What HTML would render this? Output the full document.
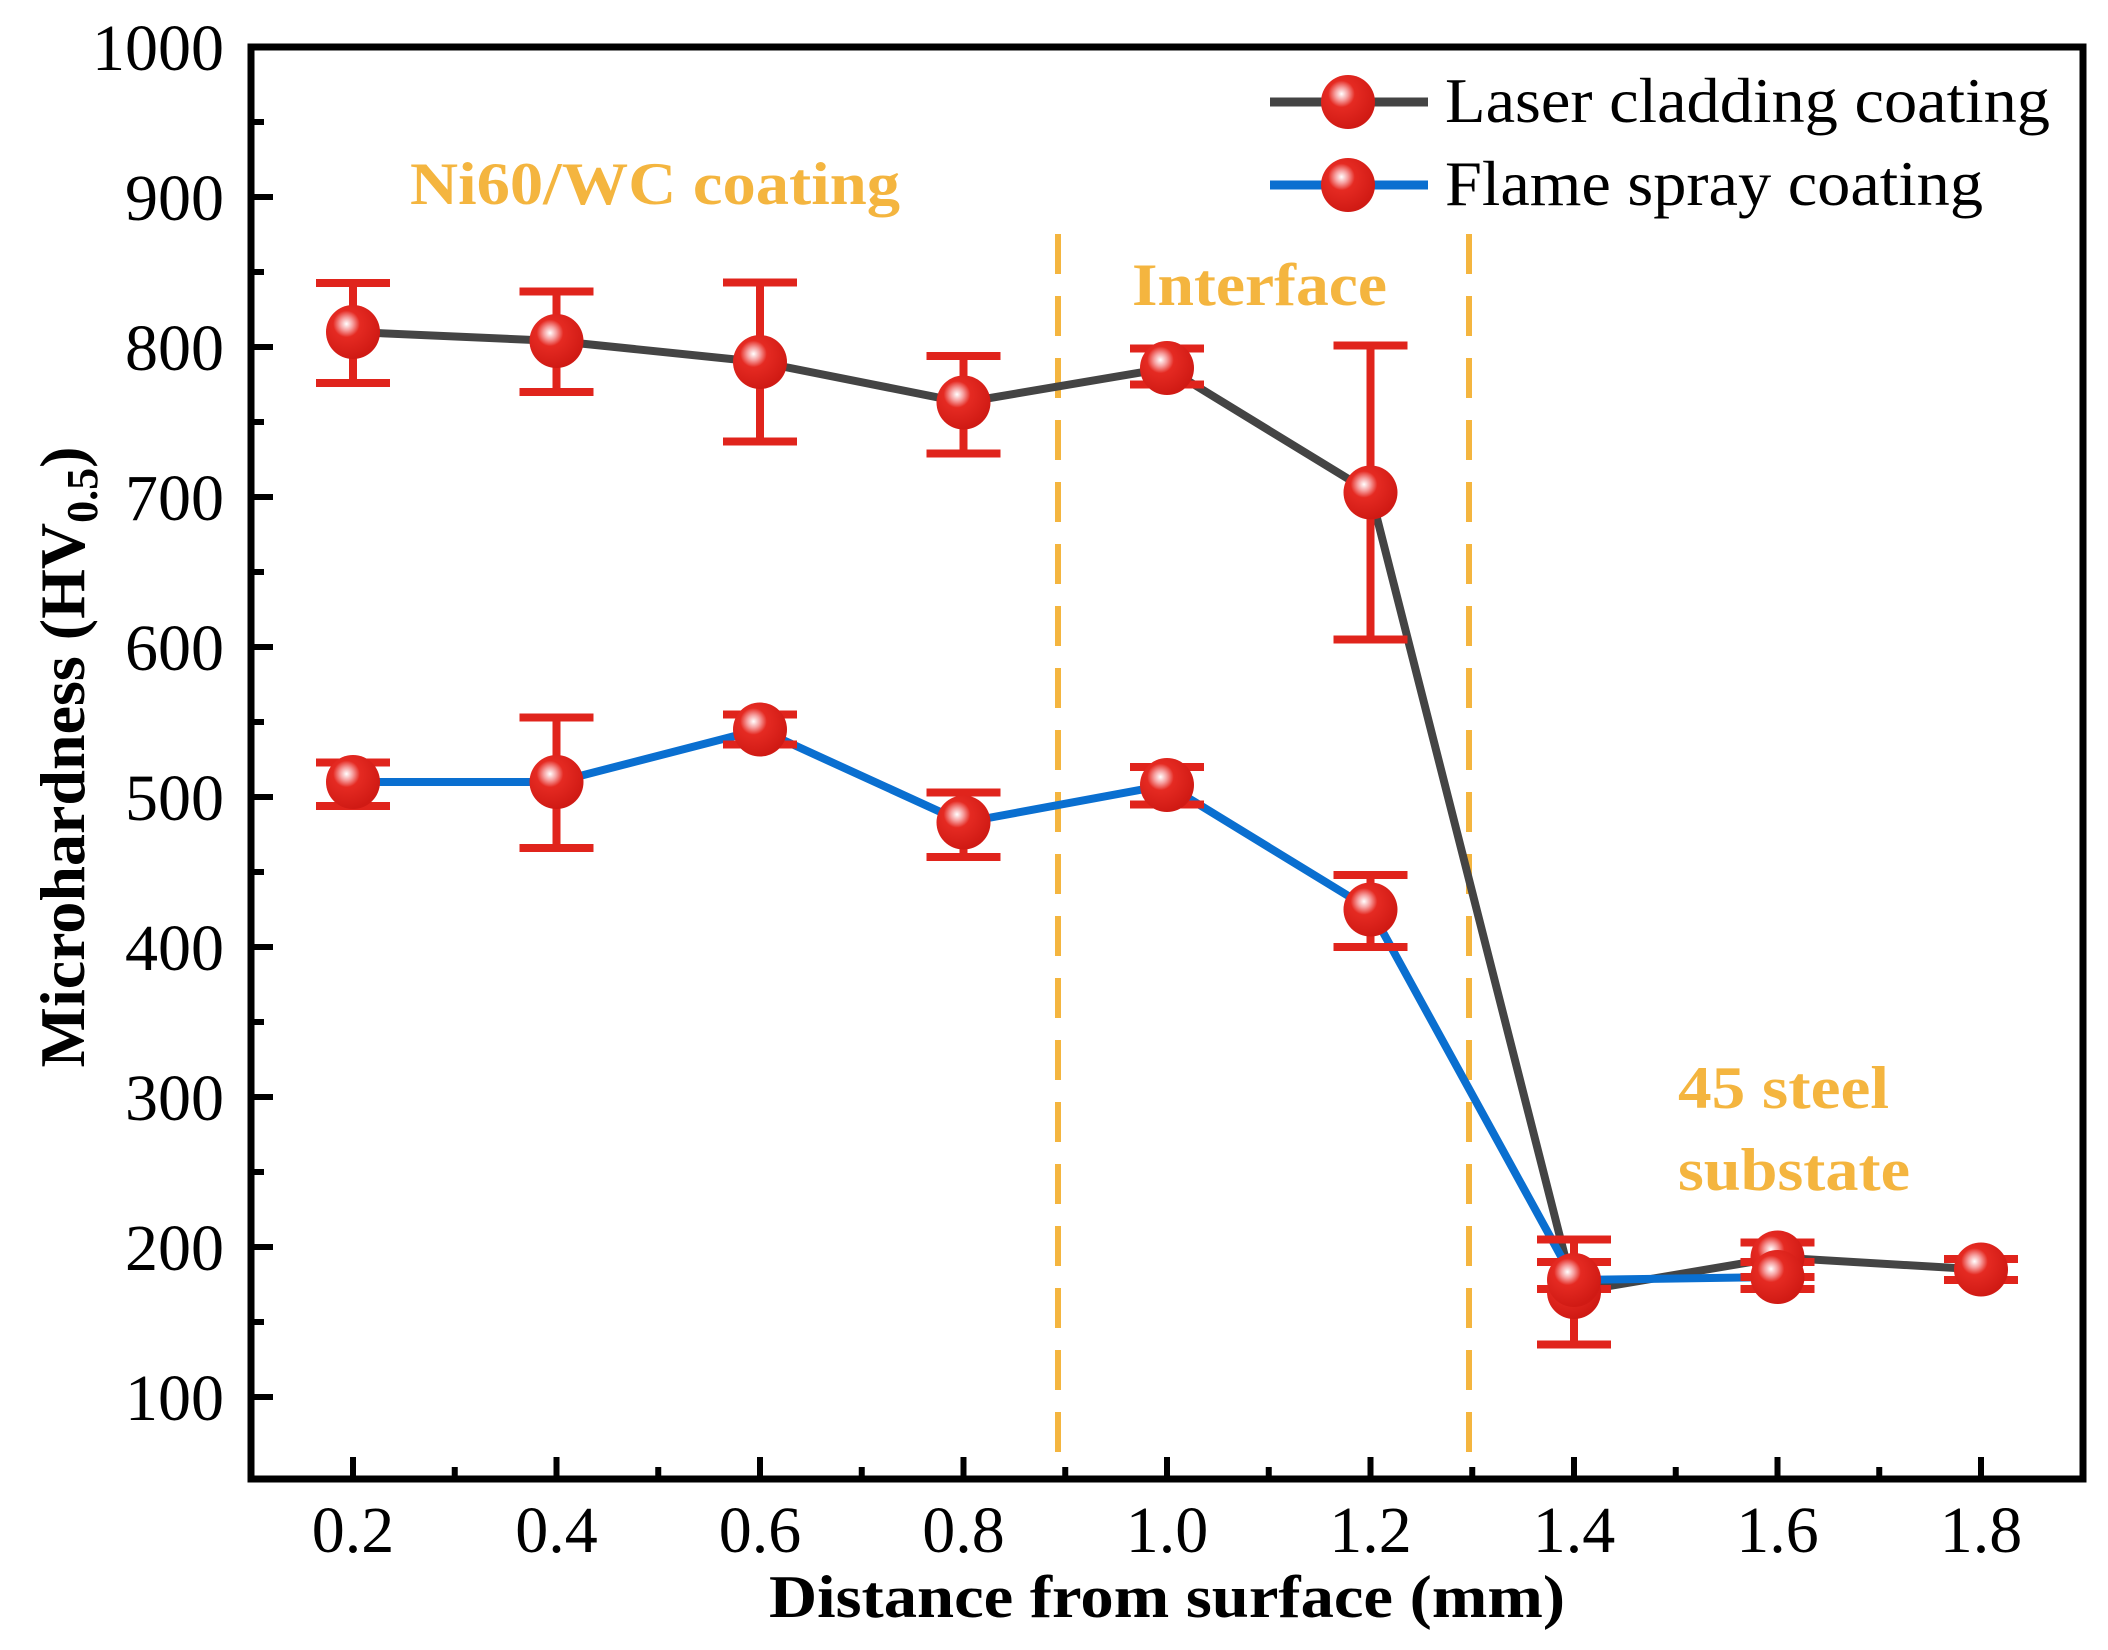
<!DOCTYPE html>
<html><head><meta charset="utf-8"><style>
html,body{margin:0;padding:0;background:#fff;}
svg{display:block;}
text{font-family:"Liberation Serif",serif;}
</style></head><body>
<svg width="2108" height="1650" viewBox="0 0 2108 1650" xmlns="http://www.w3.org/2000/svg">
<defs>
<radialGradient id="g" cx="0.38" cy="0.35" r="0.65">
<stop offset="0" stop-color="#ffffff"/>
<stop offset="0.18" stop-color="#f6a0a0"/>
<stop offset="0.38" stop-color="#e52a22"/>
<stop offset="1" stop-color="#d01a14"/>
</radialGradient>
</defs>
<g stroke="#f4b53f" stroke-width="6" stroke-dasharray="40,22">
<line x1="1058" y1="234" x2="1058" y2="1460"/>
<line x1="1469" y1="234" x2="1469" y2="1460"/>
</g>
<polyline fill="none" stroke="#444" stroke-width="8" points="353,332 556.5,341 760,362 963.5,402.5 1167,368 1370.5,492.5 1574,1292 1777.5,1257.5 1981,1269.5"/>
<polyline fill="none" stroke="#0a6fd0" stroke-width="8" points="353,782 556.5,782 760,729.5 963.5,822.5 1167,785 1370.5,909.5 1574,1280 1777.5,1277"/>
<g stroke="#e0241c" stroke-width="8" fill="none">
<path d="M353,283V383M316,283H390M316,383H390"/>
<path d="M556.5,291.5V392M519.5,291.5H593.5M519.5,392H593.5"/>
<path d="M760,282.5V441.5M723,282.5H797M723,441.5H797"/>
<path d="M963.5,356V453.5M926.5,356H1000.5M926.5,453.5H1000.5"/>
<path d="M1167,348.5V384.5M1130,348.5H1204M1130,384.5H1204"/>
<path d="M1370.5,345.5V639.5M1333.5,345.5H1407.5M1333.5,639.5H1407.5"/>
<path d="M1574,1239.5V1344.5M1537,1239.5H1611M1537,1344.5H1611"/>
<path d="M1777.5,1242.5V1277M1740.5,1242.5H1814.5M1740.5,1277H1814.5"/>
<path d="M1981,1259V1280M1944,1259H2018M1944,1280H2018"/>
<path d="M353,762.5V806M316,762.5H390M316,806H390"/>
<path d="M556.5,717.5V848M519.5,717.5H593.5M519.5,848H593.5"/>
<path d="M760,714.5V744.5M723,714.5H797M723,744.5H797"/>
<path d="M963.5,792.5V857M926.5,792.5H1000.5M926.5,857H1000.5"/>
<path d="M1167,767V804.5M1130,767H1204M1130,804.5H1204"/>
<path d="M1370.5,875V947M1333.5,875H1407.5M1333.5,947H1407.5"/>
<path d="M1574,1262V1289M1537,1262H1611M1537,1289H1611"/>
<path d="M1777.5,1262V1289M1740.5,1262H1814.5M1740.5,1289H1814.5"/>
</g>
<g fill="url(#g)">
<circle cx="353" cy="332" r="27"/><circle cx="556.5" cy="341" r="27"/><circle cx="760" cy="362" r="27"/><circle cx="963.5" cy="402.5" r="27"/><circle cx="1167" cy="368" r="27"/><circle cx="1370.5" cy="492.5" r="27"/><circle cx="1574" cy="1292" r="27"/><circle cx="1777.5" cy="1257.5" r="27"/><circle cx="1981" cy="1269.5" r="27"/>
<circle cx="353" cy="782" r="27"/><circle cx="556.5" cy="782" r="27"/><circle cx="760" cy="729.5" r="27"/><circle cx="963.5" cy="822.5" r="27"/><circle cx="1167" cy="785" r="27"/><circle cx="1370.5" cy="909.5" r="27"/><circle cx="1574" cy="1280" r="27"/><circle cx="1777.5" cy="1277" r="27"/>
</g>
<rect x="251" y="47" width="1832" height="1432" fill="none" stroke="#000" stroke-width="7"/>
<g stroke="#000" stroke-width="6">
<path d="M251,197h22M251,347h22M251,497h22M251,647h22M251,797h22M251,947h22M251,1097h22M251,1247h22M251,1397h22"/>
<path d="M251,122h13M251,272h13M251,422h13M251,572h13M251,722h13M251,872h13M251,1022h13M251,1172h13M251,1322h13"/>
<path d="M353,1479v-22M556.5,1479v-22M760,1479v-22M963.5,1479v-22M1167,1479v-22M1370.5,1479v-22M1574,1479v-22M1777.5,1479v-22M1981,1479v-22"/>
<path d="M454.75,1479v-12M658.25,1479v-12M861.75,1479v-12M1065.25,1479v-12M1268.75,1479v-12M1472.25,1479v-12M1675.75,1479v-12M1879.25,1479v-12"/>
</g>
<g font-size="66" text-anchor="end" fill="#000">
<text x="224" y="70">1000</text>
<text x="224" y="220">900</text>
<text x="224" y="370">800</text>
<text x="224" y="520">700</text>
<text x="224" y="670">600</text>
<text x="224" y="820">500</text>
<text x="224" y="970">400</text>
<text x="224" y="1120">300</text>
<text x="224" y="1270">200</text>
<text x="224" y="1420">100</text>
</g>
<g font-size="66" text-anchor="middle" fill="#000">
<text x="353" y="1552">0.2</text>
<text x="556.5" y="1552">0.4</text>
<text x="760" y="1552">0.6</text>
<text x="963.5" y="1552">0.8</text>
<text x="1167" y="1552">1.0</text>
<text x="1370.5" y="1552">1.2</text>
<text x="1574" y="1552">1.4</text>
<text x="1777.5" y="1552">1.6</text>
<text x="1981" y="1552">1.8</text>
</g>
<text x="1167" y="1617" font-size="60" font-weight="bold" text-anchor="middle" textLength="796" lengthAdjust="spacingAndGlyphs">Distance from surface (mm)</text>
<text transform="translate(84,757) rotate(-90)" font-size="64" font-weight="bold" text-anchor="middle">Microhardness (HV<tspan font-size="44" dy="13">0.5</tspan><tspan dy="-13">)</tspan></text>
<line x1="1270" y1="102" x2="1428" y2="102" stroke="#444" stroke-width="9"/>
<circle cx="1348" cy="102" r="27" fill="url(#g)"/>
<line x1="1270" y1="185" x2="1428" y2="185" stroke="#0a6fd0" stroke-width="9"/>
<circle cx="1348" cy="185" r="27" fill="url(#g)"/>
<text x="1445" y="122" font-size="64" textLength="605" lengthAdjust="spacingAndGlyphs">Laser cladding coating</text>
<text x="1445" y="205" font-size="64" textLength="538" lengthAdjust="spacingAndGlyphs">Flame spray coating</text>
<g fill="#f4b53f" font-weight="bold" font-size="60">
<text x="410" y="204" textLength="490" lengthAdjust="spacingAndGlyphs">Ni60/WC coating</text>
<text x="1132" y="305" textLength="255" lengthAdjust="spacingAndGlyphs">Interface</text>
<text x="1678" y="1108" textLength="211" lengthAdjust="spacingAndGlyphs">45 steel</text>
<text x="1678" y="1190" textLength="232" lengthAdjust="spacingAndGlyphs">substate</text>
</g>
</svg>
</body></html>
